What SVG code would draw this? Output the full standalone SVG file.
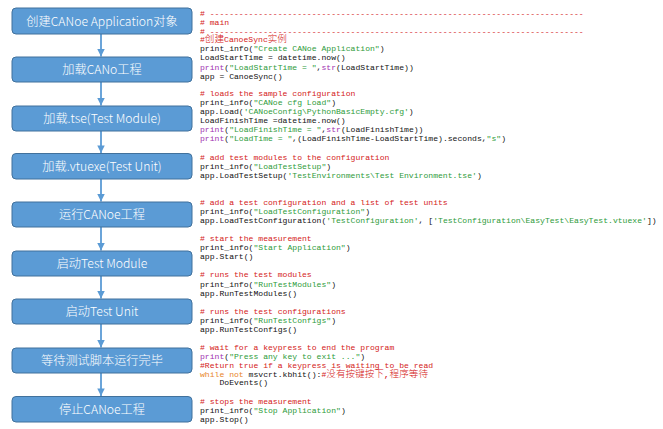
<svg xmlns="http://www.w3.org/2000/svg" width="663" height="429" viewBox="0 0 663 429">
<style>
.box{fill:#5B9BD5;stroke:#41719C;stroke-width:1}
.lbl{font-family:"Noto Sans CJK SC","Liberation Sans",sans-serif;font-size:12.2px;font-weight:300;fill:#ffffff;text-anchor:middle}
.code{font-family:"Liberation Mono","Noto Sans CJK SC",monospace;font-size:8.1px;fill:#111111;white-space:pre}
.c{fill:#D42020}
.s{fill:#2E9B3A}
.k{fill:#A030B0}
.o{fill:#E8842A}
.cj{font-size:9.6px;font-weight:300}
.conn{stroke:#5B9BD5;stroke-width:1.8;fill:none}
</style>
<defs>
<marker id="ah" viewBox="0 0 10 10" refX="10" refY="5" markerWidth="4.2" markerHeight="4.2" orient="auto" markerUnits="strokeWidth">
<path d="M0,0 L10,5 L0,10 Z" fill="#5B9BD5"/>
</marker>
</defs>
<rect width="663" height="429" fill="#ffffff"/>
<g id="connectors">
<path class="conn" d="M101,34 V56.5" marker-end="url(#ah)"/>
<path class="conn" d="M101,82 V105.5" marker-end="url(#ah)"/>
<path class="conn" d="M101,131 V153" marker-end="url(#ah)"/>
<path class="conn" d="M101,179 V201.5" marker-end="url(#ah)"/>
<path class="conn" d="M101,227 V250.5" marker-end="url(#ah)"/>
<path class="conn" d="M101,276 V298.5" marker-end="url(#ah)"/>
<path class="conn" d="M101,324 V347.5" marker-end="url(#ah)"/>
<path class="conn" d="M101,373 V396" marker-end="url(#ah)"/>
</g>
<g id="n1"><rect class="box" x="12" y="8" width="180" height="26" rx="4"/><text class="lbl" x="102" y="25.5">创建CANoe Application对象</text></g>
<g id="n2"><rect class="box" x="12" y="57" width="180" height="25" rx="4"/><text class="lbl" x="102" y="74">加载CANo工程</text></g>
<g id="n3"><rect class="box" x="12" y="106" width="180" height="25" rx="4"/><text class="lbl" x="102" y="123">加载.tse(Test Module)</text></g>
<g id="n4"><rect class="box" x="12" y="153.5" width="180" height="25.5" rx="4"/><text class="lbl" x="102" y="171">加载.vtuexe(Test Unit)</text></g>
<g id="n5"><rect class="box" x="12" y="202" width="180" height="25" rx="4"/><text class="lbl" x="102" y="219">运行CANoe工程</text></g>
<g id="n6"><rect class="box" x="12" y="251" width="180" height="25" rx="4"/><text class="lbl" x="102" y="268">启动Test Module</text></g>
<g id="n7"><rect class="box" x="12" y="299" width="180" height="25" rx="4"/><text class="lbl" x="102" y="316">启动Test Unit</text></g>
<g id="n8"><rect class="box" x="12" y="348" width="180" height="25" rx="4"/><text class="lbl" x="102" y="365">等待测试脚本运行完毕</text></g>
<g id="n9"><rect class="box" x="12" y="396.5" width="180" height="25.5" rx="4"/><text class="lbl" x="102" y="414">停止CANoe工程</text></g>
<g id="code" class="code">
<text x="200" y="15.7" class="c"># -----------------------------------------------------------------------------</text>
<text x="200" y="24.7" class="c"># main</text>
<text x="200" y="33.7" class="c"># -----------------------------------------------------------------------------</text>
<text x="200" y="42.3" class="c">#<tspan class="cj">创建</tspan>CanoeSync<tspan class="cj">实例</tspan></text>
<text x="200" y="51.3">print_info(<tspan class="s">"Create CANoe Application"</tspan>)</text>
<text x="200" y="60.3">LoadStartTime = datetime.now()</text>
<text x="200" y="69.7"><tspan class="k">print</tspan>(<tspan class="s">"LoadStartTime = "</tspan>,<tspan class="k">str</tspan>(LoadStartTime))</text>
<text x="200" y="78.7">app = CanoeSync()</text>
<text x="200" y="96.3" class="c"># loads the sample configuration</text>
<text x="200" y="105.3">print_info(<tspan class="s">"CANoe cfg Load"</tspan>)</text>
<text x="200" y="114">app.Load(<tspan class="s">'CANoeConfig\PythonBasicEmpty.cfg'</tspan>)</text>
<text x="200" y="122.7">LoadFinishTime =datetime.now()</text>
<text x="200" y="132"><tspan class="k">print</tspan>(<tspan class="s">"LoadFinishTime = "</tspan>,<tspan class="k">str</tspan>(LoadFinishTime))</text>
<text x="200" y="141.3"><tspan class="k">print</tspan>(<tspan class="s">"LoadTime = "</tspan>,(LoadFinishTime-LoadStartTime).seconds,<tspan class="s">"s"</tspan>)</text>
<text x="200" y="159.7" class="c"># add test modules to the configuration</text>
<text x="200" y="168.7">print_info(<tspan class="s">"LoadTestSetup"</tspan>)</text>
<text x="200" y="178">app.LoadTestSetup(<tspan class="s">'TestEnvironments\Test Environment.tse'</tspan>)</text>
<text x="200" y="204.7" class="c"># add a test configuration and a list of test units</text>
<text x="200" y="213.7">print_info(<tspan class="s">"LoadTestConfiguration"</tspan>)</text>
<text x="200" y="223">app.LoadTestConfiguration(<tspan class="s">'TestConfiguration'</tspan>, [<tspan class="s">'TestConfiguration\EasyTest\EasyTest.vtuexe'</tspan>])</text>
<text x="200" y="241.3" class="c"># start the measurement</text>
<text x="200" y="250.3">print_info(<tspan class="s">"Start Application"</tspan>)</text>
<text x="200" y="259">app.Start()</text>
<text x="200" y="277.3" class="c"># runs the test modules</text>
<text x="200" y="286.7">print_info(<tspan class="s">"RunTestModules"</tspan>)</text>
<text x="200" y="295.7">app.RunTestModules()</text>
<text x="200" y="314" class="c"># runs the test configurations</text>
<text x="200" y="323">print_info(<tspan class="s">"RunTestConfigs"</tspan>)</text>
<text x="200" y="332">app.RunTestConfigs()</text>
<text x="200" y="350" class="c"># wait for a keypress to end the program</text>
<text x="200" y="359"><tspan class="k">print</tspan>(<tspan class="s">"Press any key to exit ..."</tspan>)</text>
<text x="200" y="368" class="c">#Return true if a keypress is waiting to be read</text>
<text x="200" y="376.7"><tspan class="o">while not</tspan> msvcrt.kbhit():<tspan class="c">#<tspan class="cj">没有按键按下,程序等待</tspan></tspan></text>
<text x="219.5" y="385">DoEvents()</text>
<text x="200" y="404" class="c"># stops the measurement</text>
<text x="200" y="413">print_info(<tspan class="s">"Stop Application"</tspan>)</text>
<text x="200" y="421.7">app.Stop()</text>
</g>
</svg>
